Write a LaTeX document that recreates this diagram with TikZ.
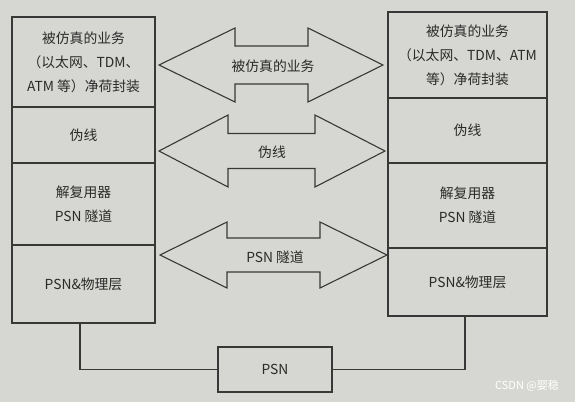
\documentclass[tikz,border=0pt]{standalone}
\usepackage{fontspec}
\setmainfont{Noto Sans CJK SC}
\definecolor{bg}{HTML}{D6D6D2}
\definecolor{ink}{HTML}{383838}
\definecolor{txt}{HTML}{2A2A2A}
\newcommand\dblarrow[7]{%
  \draw[arrowline] (#1,#3) -- ({#1+#6},{#3-#4}) -- ({#1+#6},{#3-#5}) -- ({#2-#7},{#3-#5})
    -- ({#2-#7},{#3-#4}) -- (#2,#3) -- ({#2-#7},{#3+#4}) -- ({#2-#7},{#3+#5})
    -- ({#1+#6},{#3+#5}) -- ({#1+#6},{#3+#4}) -- cycle;}
\begin{document}
\begin{tikzpicture}[x=1pt,y=-1pt,
  every node/.style={text=txt,font=\fontsize{13.8}{24}\selectfont,align=center,inner sep=0pt},
  layer/.style={draw=ink,line width=1.1pt,minimum width=#1,anchor=center},
  arrowline/.style={draw=ink,line width=1.1pt,line join=miter},
  wire/.style={draw=ink,line width=1.1pt}]
\fill[bg] (0,0) rectangle (575,402);
\useasboundingbox (0,0) rectangle (575,402);
% left stack
\node[layer=143pt,minimum height=90pt] (l1) at (83.5,62) {被仿真的业务\\（以太网、TDM、\\ATM 等）净荷封装};
\node[layer=143pt,minimum height=56pt] (l2) at (83.5,135) {伪线};
\node[layer=143pt,minimum height=82pt] (l3) at (83.5,204) {解复用器\\PSN 隧道};
\node[layer=143pt,minimum height=78pt] (l4) at (83.5,284) {PSN\&物理层};
% right stack
\node[layer=159pt,minimum height=86pt] (r1) at (467.5,55) {被仿真的业务\\（以太网、TDM、ATM\\等）净荷封装};
\node[layer=159pt,minimum height=65pt] (r2) at (467.5,130.5) {伪线};
\node[layer=159pt,minimum height=85pt] (r3) at (467.5,205.5) {解复用器\\PSN 隧道};
\node[layer=159pt,minimum height=68pt] (r4) at (467.5,282) {PSN\&物理层};
% PSN
\node[layer=114pt,minimum height=45pt] (psn) at (275,369.5) {PSN};
\coordinate (la) at (80,323);
\coordinate (ra) at (465,316);
\draw[wire] (la) |- (psn.west);
\draw[wire] (psn.east) -| (ra);
% arrows
\dblarrow{159}{383}{65}{37}{19}{76}{75}
\dblarrow{159}{385}{151}{36}{17.5}{69}{70}
\dblarrow{160}{387}{255}{33}{17}{67}{67}
\node (a1) at (273,66) {被仿真的业务};
\node (a2) at (272,152) {伪线};
\node (a3) at (275,257) {PSN 隧道};
\node[text=white,font=\fontsize{11}{13}\selectfont] (wm) at (527,386) {CSDN @婴稳};
\end{tikzpicture}
\end{document}
